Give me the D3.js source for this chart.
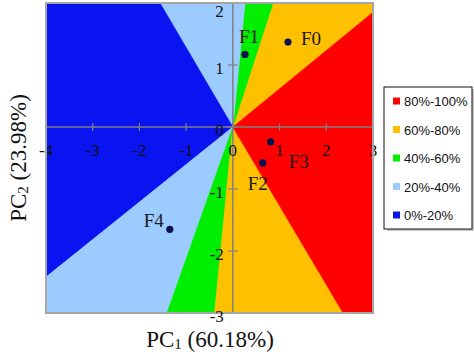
<!DOCTYPE html>
<html>
<head>
<meta charset="utf-8">
<script src="https://cdn.jsdelivr.net/npm/d3@7"></script>
<style>
  body { margin: 0; background: #fff; }
  svg { display: block; }
</style>
</head>
<body>
<div id="chart"></div>
<script>
//////////////////////////////////////////////////////////////////////////////
// Data

// boundary rays from the origin (a point on each ray, PC1 / PC2 units)
var boundaryX = [3, 0.86, 0.26, -1.56, -4, -1.41, -0.39, 2.36];
var boundaryY = [1.85, 2, 2, 2, -2.42, -3, -3, -3];
// class of the sector between boundary i and boundary i+1
var sectorClass = ["60%-80%", "40%-60%", "20%-40%", "0%-20%",
                   "20%-40%", "40%-60%", "60%-80%", "80%-100%"];

var legendLabels = ["80%-100%", "60%-80%", "40%-60%", "20%-40%", "0%-20%"];

var pointNames = ["F0", "F1", "F2", "F3", "F4"];
var pointPC1 = [1.18, 0.26, 0.64, 0.81, -1.35];
var pointPC2 = [1.37, 1.17, -0.58, -0.24, -1.65];

var xTicks = [-4, -3, -2, -1, 0, 1, 2, 3];
var yTicks = [-3, -2, -1, 0, 1, 2];

//////////////////////////////////////////////////////////////////////////////
// Layout

var width = 474, height = 355;
var plot = {left: 46, top: 3, right: 373, bottom: 313};

var xScale = d3.scaleLinear().domain([-4, 3]).range([plot.left, plot.right]);
var yScale = d3.scaleLinear().domain([-3, 2]).range([plot.bottom, plot.top]);

var color = d3.scaleOrdinal()
    .domain(legendLabels)
    .range(["#ff0000", "#ffc000", "#00ee00", "#9ccbff", "#0a14f0"]);

// label offsets (px) relative to each dot
var labelOffset = {
    F0: [13, 3], F1: [-6, -11], F2: [-15, 27], F3: [18, 26], F4: [-26, -2]
};

var serif = "'Liberation Serif', 'DejaVu Serif', serif";
var sans = "'Liberation Sans', Arial, sans-serif";

var svg = d3.select("#chart").append("svg")
    .attr("width", width)
    .attr("height", height);

svg.append("clipPath").attr("id", "plotClip")
    .append("rect")
    .attr("x", plot.left).attr("y", plot.top)
    .attr("width", plot.right - plot.left)
    .attr("height", plot.bottom - plot.top);

//////////////////////////////////////////////////////////////////////////////
// Sectors

var ox = xScale(0), oy = yScale(0);
var far = 30;

function rayEnd(i) {
    var px = xScale(boundaryX[i]) - ox, py = yScale(boundaryY[i]) - oy;
    return [ox + px * far, oy + py * far];
}

var sectors = sectorClass.map(function(c, i) {
    return {cls: c, a: rayEnd(i), b: rayEnd((i + 1) % boundaryX.length)};
});

svg.append("g")
    .attr("clip-path", "url(#plotClip)")
    .selectAll("path")
    .data(sectors)
    .enter()
    .append("path")
    .attr("d", function(d) {
        return "M" + ox + "," + oy + "L" + d.a[0] + "," + d.a[1] + "L" + d.b[0] + "," + d.b[1] + "Z";
    })
    .attr("fill", function(d) { return color(d.cls); })
    .attr("stroke", function(d) { return color(d.cls); })
    .attr("stroke-width", 0.6);

//////////////////////////////////////////////////////////////////////////////
// Axes through the origin

var axisCol = "#7f7f7f";
var ax = svg.append("g");

ax.append("line")
    .attr("x1", plot.left).attr("x2", plot.right)
    .attr("y1", oy).attr("y2", oy)
    .attr("stroke", axisCol).attr("stroke-width", 1.5);
ax.append("line")
    .attr("x1", ox).attr("x2", ox)
    .attr("y1", plot.top).attr("y2", plot.bottom)
    .attr("stroke", axisCol).attr("stroke-width", 1.5);

ax.selectAll(".xt").data(xTicks).enter().append("line")
    .attr("x1", function(d) { return xScale(d); })
    .attr("x2", function(d) { return xScale(d); })
    .attr("y1", oy - 4).attr("y2", oy + 4)
    .attr("stroke", axisCol).attr("stroke-width", 1.2);
ax.selectAll(".yt").data(yTicks).enter().append("line")
    .attr("x1", ox - 5).attr("x2", ox + 5)
    .attr("y1", function(d) { return yScale(d); })
    .attr("y2", function(d) { return yScale(d); })
    .attr("stroke", axisCol).attr("stroke-width", 1.2);

// frame
svg.append("rect")
    .attr("x", plot.left).attr("y", plot.top)
    .attr("width", plot.right - plot.left)
    .attr("height", plot.bottom - plot.top)
    .attr("fill", "none")
    .attr("stroke", "#a6a6a6")
    .attr("stroke-width", 2);

ax.selectAll(".xl").data(xTicks).enter().append("text")
    .attr("x", function(d) { return xScale(d); })
    .attr("y", oy + 29)
    .attr("text-anchor", "middle")
    .attr("font-family", serif)
    .attr("font-size", 17)
    .attr("fill", "#111")
    .text(function(d) { return d; });

svg.selectAll(".yl").data(yTicks).enter().append("text")
    .attr("x", ox - 9)
    .attr("y", function(d) { return Math.max(yScale(d) + 9, 17); })
    .attr("text-anchor", "end")
    .attr("font-family", serif)
    .attr("font-size", 17)
    .attr("fill", "#111")
    .text(function(d) { return d; });

//////////////////////////////////////////////////////////////////////////////
// Points

var pts = pointNames.map(function(n, i) {
    return {name: n, x: pointPC1[i], y: pointPC2[i]};
});

svg.selectAll(".pt").data(pts).enter().append("circle")
    .attr("cx", function(d) { return xScale(d.x); })
    .attr("cy", function(d) { return yScale(d.y); })
    .attr("r", 3.6)
    .attr("fill", "#0b124f");

svg.selectAll(".pl").data(pts).enter().append("text")
    .attr("x", function(d) { return xScale(d.x) + labelOffset[d.name][0]; })
    .attr("y", function(d) { return yScale(d.y) + labelOffset[d.name][1]; })
    .attr("font-family", serif)
    .attr("font-size", 19)
    .attr("fill", "#1a1a1a")
    .text(function(d) { return d.name; });

//////////////////////////////////////////////////////////////////////////////
// Axis titles

var xt = svg.append("text")
    .attr("x", 210).attr("y", 347)
    .attr("text-anchor", "middle")
    .attr("font-family", serif)
    .attr("font-size", 23)
    .attr("fill", "#111");
xt.append("tspan").text("PC");
xt.append("tspan").attr("font-size", 15).attr("dy", 2).text("1");
xt.append("tspan").attr("dy", -2).text(" (60.18%)");

var yt = svg.append("text")
    .attr("transform", "translate(26,158) rotate(-90)")
    .attr("text-anchor", "middle")
    .attr("font-family", serif)
    .attr("font-size", 23)
    .attr("fill", "#111");
yt.append("tspan").text("PC");
yt.append("tspan").attr("font-size", 15).attr("dy", 2).text("2");
yt.append("tspan").attr("dy", -2).text(" (23.98%)");

//////////////////////////////////////////////////////////////////////////////
// Legend

var lg = svg.append("g").attr("transform", "translate(384,87)");
lg.append("rect")
    .attr("x", 3).attr("y", 2)
    .attr("width", 88).attr("height", 142)
    .attr("fill", "#c8c8c8");
lg.append("rect")
    .attr("x", 0).attr("y", 0)
    .attr("width", 88).attr("height", 142)
    .attr("fill", "#fff")
    .attr("stroke", "#111")
    .attr("stroke-width", 1);

var items = lg.selectAll(".li").data(legendLabels).enter().append("g")
    .attr("transform", function(d, i) { return "translate(9," + (14 + i * 28.5) + ")"; });
items.append("rect")
    .attr("x", 0).attr("y", -3.5)
    .attr("width", 7).attr("height", 7)
    .attr("fill", function(d) { return color(d); });
items.append("text")
    .attr("x", 11).attr("y", 5)
    .attr("font-family", sans)
    .attr("font-size", 13)
    .attr("fill", "#111")
    .text(function(d) { return d; });
</script>
</body>
</html>
